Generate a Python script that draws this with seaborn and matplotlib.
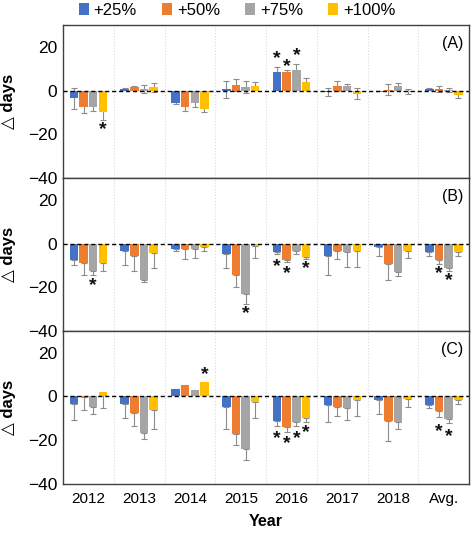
import numpy as np
import pandas as pd
import matplotlib
matplotlib.use("Agg")
import matplotlib.pyplot as plt
import seaborn as sns
from matplotlib.patches import Patch

plt.rcParams['font.family'] = ['Liberation Sans', 'DejaVu Sans']

years = ["2012", "2013", "2014", "2015", "2016", "2017", "2018", "Avg."]
scenarios = ["+25%", "+50%", "+75%", "+100%"]
colors = ["#4472C4", "#ED7D31", "#A5A5A5", "#FFC000"]
panel_labels = ["(A)", "(B)", "(C)"]

# Panel A (means, symmetric errors)
a_25 = [-3.5, 0.8, -5.8, 0.6, 8.3, -0.5, 0.0, 0.8]
a_50 = [-7.7, 1.5, -7.4, 2.7, 8.3, 2.2, 0.5, 0.8]
a_75 = [-7.5, 0.6, -5.5, 1.6, 9.6, 2.0, 2.0, 0.3]
a_100 = [-9.8, 1.6, -8.3, 2.1, 3.9, -1.5, -0.4, -2.0]
ea_25 = [4.7, 0.5, 0.5, 3.9, 2.5, 1.8, 0.0, 0.6]
ea_50 = [2.5, 0.5, 2.0, 2.7, 1.3, 2.2, 2.5, 1.2]
ea_75 = [2.0, 1.8, 2.0, 2.8, 2.4, 1.0, 1.5, 1.0]
ea_100 = [3.8, 2.0, 1.3, 2.0, 1.8, 2.5, 1.3, 1.4]

# Panel B (means, lower errors)
b_25 = [-7.4, -3.3, -2.5, -4.6, -4.0, -5.5, -1.8, -3.9]
b_50 = [-8.9, -5.9, -2.5, -14.5, -7.7, -3.4, -9.6, -7.6]
b_75 = [-12.4, -16.6, -2.5, -23.1, -3.4, -3.9, -13.0, -11.1]
b_100 = [-8.9, -4.4, -1.8, -1.0, -6.1, -3.4, -3.4, -4.0]
eb_25 = [2.5, 6.6, 1.0, 6.8, 1.0, 9.0, 4.0, 1.9]
eb_50 = [5.5, 6.7, 4.5, 5.4, 0.6, 3.9, 7.3, 1.8]
eb_75 = [2.0, 1.0, 3.9, 4.6, 1.6, 7.0, 2.0, 1.6]
eb_100 = [3.7, 7.0, 1.6, 5.4, 1.0, 7.4, 3.3, 1.8]

# Panel C (means, lower errors)
c_25 = [-3.3, -3.3, 3.3, -4.8, -11.2, -4.0, -1.8, -4.0]
c_50 = [-0.3, -7.6, 5.4, -17.0, -13.9, -4.8, -11.2, -6.7]
c_75 = [-4.8, -16.9, 3.1, -23.9, -11.9, -5.2, -11.8, -10.3]
c_100 = [2.2, -6.1, 6.5, -2.5, -9.7, -1.8, -1.0, -1.8]
ec_25 = [7.6, 6.7, 0.5, 10.3, 2.5, 7.5, 6.1, 1.5]
ec_50 = [6.0, 6.1, 2.0, 5.2, 2.5, 4.0, 9.0, 2.5]
ec_75 = [3.1, 2.4, 0.5, 5.2, 1.8, 5.5, 3.1, 1.9]
ec_100 = [7.4, 9.0, 1.0, 7.5, 1.8, 7.0, 4.0, 1.8]

# significance markers: (panel, year index, scenario index, y)
stars = [
    (0, 0, 3, -18.0), (0, 4, 0, 14.5), (0, 4, 1, 11.0), (0, 4, 2, 16.0),
    (1, 0, 2, -19.3), (1, 3, 2, -32.0), (1, 4, 0, -10.5), (1, 4, 1, -13.8),
    (1, 4, 3, -11.6), (1, 7, 1, -13.8), (1, 7, 2, -17.0),
    (2, 2, 3, 10.1), (2, 4, 0, -19.3), (2, 4, 1, -21.6), (2, 4, 2, -19.3),
    (2, 4, 3, -16.4), (2, 7, 1, -16.0), (2, 7, 2, -18.5),
]

panels = [
    ([a_25, a_50, a_75, a_100], [ea_25, ea_50, ea_75, ea_100], True),
    ([b_25, b_50, b_75, b_100], [eb_25, eb_50, eb_75, eb_100], False),
    ([c_25, c_50, c_75, c_100], [ec_25, ec_50, ec_75, ec_100], False),
]

fig, axes = plt.subplots(3, 1, figsize=(4.74, 5.34), dpi=100, sharex=True)
fig.subplots_adjust(left=0.133, right=0.99, top=0.953, bottom=0.094, hspace=0)

for k, (ax, (means, errs, both)) in enumerate(zip(axes, panels)):
    rows = []
    for s, vals in zip(scenarios, means):
        for y, v in zip(years, vals):
            rows.append({"year": y, "scen": s, "val": v})
    df = pd.DataFrame(rows)
    sns.barplot(data=df, x="year", y="val", hue="scen", order=years,
                hue_order=scenarios, palette=colors, width=0.76, gap=0.12,
                errorbar=None, legend=False, ax=ax, saturation=1)
    patches = sorted(ax.patches, key=lambda p: p.get_x())
    for p in patches:
        p.set_zorder(2)
        p.set_linewidth(0)
    xs = np.array([p.get_x() + p.get_width() / 2 for p in patches]).reshape(len(years), 4)
    for j in range(4):
        e = np.array(errs[j])
        up = e if both else np.zeros_like(e)
        ax.errorbar(xs[:, j], means[j], yerr=[e, up], fmt='none', ecolor='#8c8c8c',
                    elinewidth=0.8, capsize=2.5, capthick=0.8, zorder=1)
    for (pk, yi, si, yv) in stars:
        if pk == k:
            ax.text(xs[yi, si], yv, "*", ha='center', va='center', fontsize=14,
                    fontweight='bold', color='#111111', zorder=4)
    ax.axhline(0, color='black', ls=(0, (3, 2)), lw=1.0, zorder=3)
    for b in range(len(years) - 1):
        ax.axvline(b + 0.5, color='#d9d9d9', ls=':', lw=0.8, zorder=0)
    ax.set_ylim(-40, 30)
    ax.set_xlim(-0.5, len(years) - 0.5)
    ax.set_yticks([-40, -20, 0, 20])
    ax.tick_params(axis='y', length=0, labelsize=12.5, pad=4)
    ax.tick_params(axis='x', length=0, labelsize=11, pad=6)
    ax.set_ylabel("△ days", fontsize=12, fontweight='bold', labelpad=9)
    ax.set_xlabel("")
    for sp in ax.spines.values():
        sp.set_color('#404040')
        sp.set_linewidth(1.0)
    ax.text(0.985, 0.93, panel_labels[k], transform=ax.transAxes, ha='right',
            va='top', fontsize=11.5)

axes[-1].set_xlabel("Year", fontsize=11.5, fontweight='bold', labelpad=6)

handles = [Patch(facecolor=c, edgecolor='none') for c in colors]
fig.legend(handles, scenarios, loc='center', bbox_to_anchor=(0.5, 0.981), ncol=4,
           frameon=False, fontsize=12, handlelength=0.6, handleheight=0.75,
           handletextpad=0.3, columnspacing=1.5)

fig.savefig("out.png", dpi=100)
